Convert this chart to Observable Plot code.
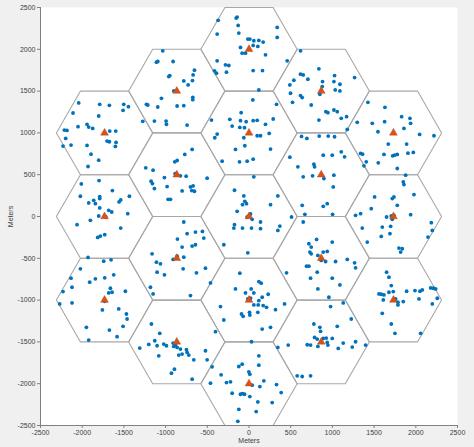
<!DOCTYPE html>
<html><head><meta charset="utf-8">
<script src="https://cdn.jsdelivr.net/npm/d3@7"></script>
<script src="https://cdn.jsdelivr.net/npm/@observablehq/plot@0.6"></script>
<style>
html,body{margin:0;padding:0;background:#f0f0f0;}
#chart svg{display:block;}
</style>
</head><body><div id="chart"></div>
<script>
// Base station (cell) centres, meters
const cellX = [0, 0, 0, 0, 0, 866, 866, 866, 866, -866, -866, -866, -866, 1732, 1732, 1732, -1732, -1732, -1732];
const cellY = [0, 1000, 2000, -1000, -2000, 500, 1500, -500, -1500, 500, 1500, -500, -1500, 0, 1000, -1000, 0, 1000, -1000];
const hexRadius = 577.35;

// Tick labels
const xTicks = [-2500, -2000, -1500, -1000, -500, 0, 500, 1000, 1500, 2000, 2500];
const yTicks = [-2500, -2000, -1500, -1000, -500, 0, 500, 1000, 1500, 2000, 2500];

// User positions [x, y] in meters, grouped by hex column
const usersColFarLeft = [[-2042,1358],[-1790,1342],[-1674,1330],[-1502,1342],[-1446,1314],[-1510,1270],[-2110,1238],[-1802,1202],[-2050,1074],[-1942,1102],[-1922,1070],[-1874,1054],[-2214,1034],[-2182,1030],[-1670,1022],[-1598,1022],[-2198,934],[-1702,902],[-1674,894],[-1594,886],[-2230,842],[-2134,854],[-1942,850],[-1602,838],[-1894,746],[-1802,674],[-1930,598],
[-2010,390],[-1798,430],[-1638,310],[-2022,242],[-1790,238],[-1790,214],[-1434,242],[-1862,194],[-1922,162],[-1842,154],[-1538,198],[-1558,174],[-1790,102],[-1682,74],[-1646,54],[-1802,6],[-1718,-6],[-1902,-46],[-1454,34],[-2062,-98],[-1538,-138],[-1782,-234],[-1814,-250],[-1730,-218],[-1930,-490],
[-1742,-534],[-1654,-518],[-2022,-626],[-2134,-738],[-2122,-846],[-1910,-786],[-1842,-746],[-1730,-734],[-1622,-698],[-1662,-858],[-1642,-906],[-1682,-914],[-1482,-894],[-2230,-898],[-2270,-1046],[-2122,-1034],[-1730,-1014],[-1758,-1118],[-1562,-1106],[-1470,-1166],[-1462,-1226],[-1950,-1326],[-1510,-1314],[-1674,-1358],[-1582,-1438],[-1922,-1478]];

const usersColLeft = [[-1034,1982],[-1094,1854],[-1110,1846],[-910,1854],[-962,1674],[-950,1686],[-654,1750],[-670,1694],[-782,1622],[-678,1626],[-730,1574],[-902,1502],[-1050,1414],[-674,1426],[-674,1398],[-1230,1342],[-1214,1334],[-1094,1310],[-862,1322],[-782,1326],[-1274,1138],[-1134,1142],[-994,1142],[-990,1102],[-742,1094],
[-1238,582],[-1150,554],[-890,654],[-862,670],[-770,742],[-682,802],[-1014,466],[-1174,422],[-1158,394],[-1134,334],[-982,358],[-886,514],[-862,502],[-822,486],[-754,482],[-802,306],[-970,206],[-942,206],[-502,458],[-702,354],[-670,366],[-686,310],[-654,302],
[-782,-66],[-742,-206],[-642,-186],[-558,-178],[-542,-258],[-682,-354],[-642,-338],[-802,-366],[-782,-486],[-790,-626],[-630,-674],[-522,-618],[-462,-794],[-702,-946],[-1162,-446],[-1110,-546],[-1062,-566],[-1102,-666],[-1014,-698],[-910,-514],[-862,-474],[-1182,-846],[-1150,-926],[-858,-270],
[-1170,-1286],[-1070,-1398],[-1130,-1486],[-1202,-1530],[-1102,-1546],[-1022,-1526],[-990,-1546],[-910,-1514],[-882,-1538],[-862,-1566],[-902,-1554],[-822,-1586],[-750,-1594],[-742,-1626],[-722,-1658],[-802,-1646],[-842,-1658],[-1082,-1666],[-1310,-1574],[-662,-1714],[-894,-1826],[-930,-1874],[-682,-1946],[-522,-1606],[-502,-1714],[-442,-1798],[-402,-1378]];

const usersColCenter = [[-154,2374],[-142,2386],[-370,2346],[-130,2286],[-382,2182],[-122,2194],[338,2262],[338,2142],[-14,2122],[10,2122],[58,2102],[118,2106],[170,2086],[50,2046],[-102,2022],[-82,1954],[-42,1954],[106,2034],[198,1934],[-382,1862],[458,1862],[-282,1814],[-242,1806],[-270,1726],[-414,1742],[-390,1714],[50,1746],[162,1746],[118,1514],
[46,1394],[-94,1242],[-450,1154],[-230,1162],[-102,1146],[-34,1134],[50,1146],[98,1150],[290,1166],[-202,1082],[-110,1066],[-54,1062],[198,1102],[98,966],[138,966],[242,994],[-62,942],[-410,942],[-382,986],[330,1342],[-162,802],[-50,846],[258,806],[-322,662],[-114,654],[-22,662],[50,686],
[58,474],[-174,314],[-62,246],[-50,182],[-30,154],[-78,142],[-142,62],[18,30],[38,-34],[138,-66],[-174,-98],[-182,-138],[-78,-138],[30,-138],[138,-146],[258,142],[346,246],[510,-6],[370,-114],[346,-166],[-302,-338],[-14,-434],[-22,-6],
[-110,-678],[118,-778],[146,-798],[-162,-866],[26,-866],[-42,-914],[58,-914],[230,-930],[-14,-986],[18,-978],[158,-966],[118,-1006],[110,-1058],[58,-1058],[170,-1066],[210,-1086],[318,-1114],[426,-1046],[-342,-1078],[-302,-1238],[-90,-1166],[-70,-1194],[6,-1146],[10,-1178],[106,-1146],[258,-1326],[158,-1346],
[30,-1498],[118,-1666],[-82,-1766],[-122,-1794],[118,-1778],[-2,-1858],[10,-1886],[-334,-1894],[-462,-1994],[-270,-1986],[-222,-1978],[38,-2018],[130,-2034],[178,-1966],[330,-2010],[386,-2106],[-202,-2114],[-102,-2126],[-78,-2118],[-54,-2126],[10,-2154],[106,-2218],[278,-2226],[-122,-2306],[86,-2334],[-134,-2450]];

const usersColRight = [[618,1982],[838,1766],[618,1702],[650,1694],[706,1642],[538,1630],[490,1574],[498,1474],[618,1446],[638,1422],[522,1366],[746,1334],[882,1614],[878,1554],[1026,1686],[1018,1614],[1090,1582],[1034,1514],[1090,1502],[850,1462],[922,1254],[946,1242],[1018,1274],[1058,1254],[1106,1174],[1170,1194],[838,1154],[1178,1042],[1266,1662],
[630,958],[694,934],[842,962],[950,962],[1026,954],[490,710],[586,594],[778,626],[786,594],[890,734],[998,734],[1106,774],[1146,714],[650,474],[762,486],[898,454],[1018,494],[1010,354],[638,134],[938,154],[890,122],[670,26],[1002,26],
[650,-66],[718,-326],[746,-366],[810,-274],[730,-426],[746,-446],[826,-466],[890,-426],[938,-418],[866,-526],[918,-538],[1038,-538],[998,-306],[690,-594],[718,-594],[818,-666],[738,-738],[998,-738],[826,-866],[450,-674],[1178,-514],[1266,-554],[1278,-614],[1090,-818],[958,-966],
[346,-1566],[470,-1538],[578,-1906],[638,-1914],[738,-1906],[698,-1534],[738,-1538],[786,-1446],[818,-1466],[778,-1286],[850,-1326],[858,-1374],[890,-1458],[926,-1454],[998,-1458],[946,-1538],[1058,-1314],[826,-1554],[938,-1506],[1070,-1578],[1130,-1514],[1226,-1226],[1238,-1562],[1278,-1498],[1398,-1538],[978,-1078],[1130,-1034]];

const usersColFarRight = [[1426,1366],[1630,1306],[1830,1194],[1930,1174],[1938,1114],[1298,1126],[1478,1114],[1626,1134],[1546,1014],[1858,1054],[2046,982],[2218,966],[1670,866],[1890,866],[1618,742],[1722,726],[1746,734],[1778,742],[1906,758],[1970,766],[1338,754],[1362,746],[1406,654],[1378,606],[1550,642],[1778,574],
[1878,494],[1850,414],[1858,382],[1978,262],[1506,234],[1718,214],[1738,234],[1778,134],[1466,94],[1278,14],[1338,34],[1650,-6],[1706,6],[1718,-34],[1738,14],[1938,22],[1358,-138],[1598,-126],[1698,-118],[1586,-238],[1690,-206],[1418,-306],[2186,-74],[2198,-166],[2146,-246],[1798,-378],[1838,-386],[1818,-426],
[1650,-666],[1678,-726],[1706,-826],[1558,-926],[1586,-930],[1618,-938],[1678,-906],[1730,-898],[1610,-998],[1758,-986],[1786,-1026],[1786,-1058],[1850,-1018],[1890,-894],[1990,-886],[2050,-894],[2078,-878],[2178,-854],[2210,-858],[2238,-866],[2038,-986],[2258,-978],[2198,-1046],[1598,-1158],[1706,-1286],[1750,-1398],[2058,-1398]];

// ---- build tables ----
const users = [...usersColFarLeft, ...usersColLeft, ...usersColCenter, ...usersColRight, ...usersColFarRight]
  .map(([x, y]) => ({x, y}));
const stations = cellX.map((x, i) => ({x, y: cellY[i]}));
const hexVerts = [];
stations.forEach((s, i) => {
  for (let k = 0; k <= 6; k++) {
    const a = (k % 6) * Math.PI / 3;
    hexVerts.push({cell: i, x: s.x + hexRadius * Math.cos(a), y: s.y + hexRadius * Math.sin(a)});
  }
});

const fmt = d => String(d);
const chart = Plot.plot({
  width: 474, height: 447,
  marginLeft: 40, marginRight: 17, marginTop: 7, marginBottom: 22,
  style: {background: "#f0f0f0", fontFamily: "'Liberation Sans', Arial, sans-serif", fontSize: "7px", color: "#404040"},
  x: {domain: [-2500, 2500]},
  y: {domain: [-2500, 2500]},
  marks: [
    Plot.frame({fill: "white", stroke: null}),
    Plot.line(hexVerts, {x: "x", y: "y", z: "cell", stroke: "#a8a8a8", strokeWidth: 1.1}),
    Plot.dot(users, {x: "x", y: "y", r: 1.9, fill: "#0072BD", stroke: null}),
    Plot.dot(stations, {x: "x", y: "y", symbol: "triangle", r: 2.9, fill: "#D95319", stroke: "#b04010", strokeWidth: 0.4}),
    Plot.ruleX([-2500], {stroke: "#808080", strokeWidth: 1}),
    Plot.ruleY([-2500], {stroke: "#808080", strokeWidth: 1}),
    Plot.axisX({ticks: xTicks, tickFormat: fmt, tickSize: 3, tickPadding: 1.5, stroke: "#808080",
      label: "Meters", labelAnchor: "center", labelArrow: "none", labelOffset: 17, fontSize: 7}),
    Plot.axisY({ticks: yTicks, tickFormat: fmt, tickSize: 3, tickPadding: 2, stroke: "#808080",
      label: "Meters", labelAnchor: "center", labelArrow: "none", labelOffset: 32, fontSize: 7})
  ]
});
document.getElementById("chart").append(chart);
</script>
</body></html>
